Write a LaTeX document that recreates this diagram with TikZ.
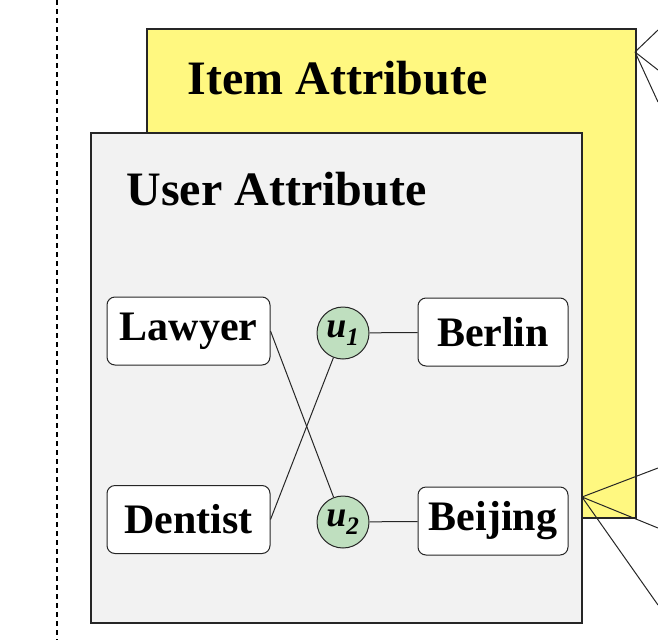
\documentclass[tikz,border=0pt]{standalone}
\usepackage{fontspec}
\setmainfont{Liberation Serif}
\begin{document}
\begin{tikzpicture}[x=1pt,y=-1pt,
 panel/.style={draw=black!85,line width=2pt},
 box/.style={draw=black!85,rounded corners=8pt,line width=1pt,fill=white,font=\bfseries\fontsize{42}{44}\selectfont,minimum height=68pt,inner sep=0pt},
 un/.style={circle,draw=black!85,fill=green!50!black!25,minimum size=52pt,inner sep=0pt,line width=1pt,font=\bfseries\itshape\fontsize{36}{38}\selectfont},
 ttl/.style={anchor=base west,font=\bfseries\fontsize{48}{52}\selectfont},
 ln/.style={draw=black!85,line width=1pt}]
\useasboundingbox (0,0) rectangle (658,640);
\draw[dash pattern=on 5pt off 4pt,line width=1.5pt] (57,0) -- (57,640);
\node[panel,fill=yellow!50,minimum width=489pt,minimum height=489pt,anchor=north west] (item) at (146,28) {};
\node[ttl] (it) at (184,94) {Item Attribute};
\node[panel,fill=black!5,minimum width=491pt,minimum height=490pt,anchor=north west] (user) at (90,132) {};
\node[ttl] (ut) at (123,205) {User Attribute};
\node[box,minimum width=163pt] (law) at (188.5,331) {Lawyer};
\node[box,minimum width=163pt] (den) at (188.5,519.5) {Dentist};
\node[box,minimum width=150pt] (ber) at (493,332) {Berlin};
\node[box,minimum width=150pt] (bei) at (493,521) {Beijing};
\node[un] (u1) at (343,333) {u\textsubscript{1}};
\node[un] (u2) at (343,522) {u\textsubscript{2}};
\draw[ln] (law.east) -- (u2);
\draw[ln] (den.east) -- (u1);
\draw[ln] (u1) -- (ber);
\draw[ln] (u2) -- (bei);
\coordinate (a) at (635,52);
\coordinate (b) at (582,497);
\draw[ln] (a) -- (658,30) (a) -- (658,70) (a) -- (658,102);
\draw[ln] (b) -- (658,468) (b) -- (658,528) (b) -- (658,605);
\end{tikzpicture}
\end{document}
